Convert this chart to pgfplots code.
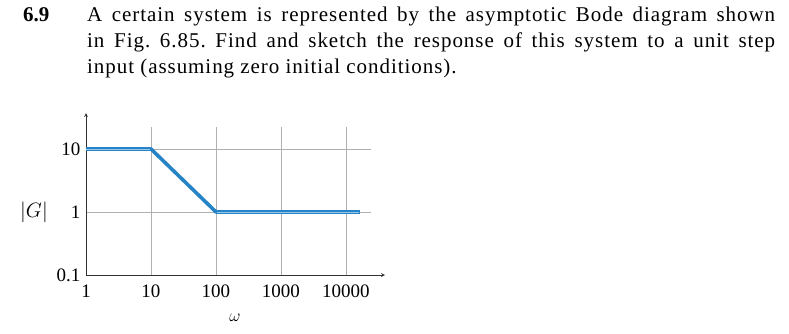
\documentclass[border=0pt]{standalone}
\usepackage{pgfplots}
\pgfplotsset{compat=1.18}
\usepackage{fontspec}
\setmainfont{Liberation Serif}
\newfontfamily\bodyfont[LetterSpace=4.5]{Liberation Serif}
\definecolor{bodeblue}{RGB}{38,132,198}
\definecolor{bodelight}{RGB}{150,200,235}
\definecolor{gridgray}{RGB}{175,175,175}
\begin{document}
\frenchspacing
\begin{tikzpicture}[x=1pt,y=1pt]
\path[use as bounding box] (0,0) rectangle (789,333);
\node[anchor=base west,inner sep=0pt,font=\fontsize{21}{26}\selectfont\bfseries] at (23,312) {6.9};
\node[anchor=base west,inner sep=0pt,font=\bodyfont\fontsize{21}{26}\selectfont] at (87,312) {\makebox[688pt][s]{A certain system is represented by the asymptotic Bode diagram shown}};
\node[anchor=base west,inner sep=0pt,font=\bodyfont\fontsize{21}{26}\selectfont] at (87,286) {\makebox[688pt][s]{in Fig. 6.85. Find and sketch the response of this system to a unit step}};
\node[anchor=base west,inner sep=0pt,font=\bodyfont\fontsize{21}{26}\selectfont] at (87,260) {input (assuming zero initial conditions).};
\begin{axis}[
  at={(86pt,58pt)}, anchor=south west,
  scale only axis, width=285pt, height=148pt,
  xmode=log, ymode=log,
  xmin=1, xmax=24270, ymin=0.1, ymax=22.3,
  axis lines=left,
  x axis line style={-stealth, shorten >=-14pt, draw=black!80, line width=0.8pt},
  y axis line style={-stealth, shorten >=-14pt, draw=black!80, line width=0.8pt},
  xtick={1,10,100,1000,10000},
  xticklabels={1,10,100,1000,10000},
  ytick={0.1,1,10},
  yticklabels={0.1,1,10},
  major tick length=0pt,
  minor tick num=0,
  xminorticks=false, yminorticks=false,
  grid=major,
  major grid style={draw=gridgray, line width=0.6pt},
  tick label style={font=\fontsize{19}{22}\selectfont},
  /pgf/number format/assume math mode=true,
  xticklabel style={yshift=-6pt},
  yticklabel style={xshift=-2pt},
  clip=false,
]
\addplot[bodeblue, line width=3.6pt, line join=round] coordinates {(1,10) (10,10) (100,1) (16400,1)};
\addplot[bodelight, line width=0.6pt, forget plot] coordinates {(1,10) (9.5,10)};
\addplot[bodelight, line width=0.6pt, forget plot] coordinates {(105,1) (16000,1)};
\node[anchor=center, font=\fontsize{21}{26}\selectfont] at (axis cs:1,1) [xshift=-52pt] {$|G|$};
\node[anchor=center, font=\fontsize{19}{22}\selectfont] at (axis cs:1,0.1) [xshift=149pt, yshift=-43pt] {$\omega$};
\end{axis}
\end{tikzpicture}
\end{document}
